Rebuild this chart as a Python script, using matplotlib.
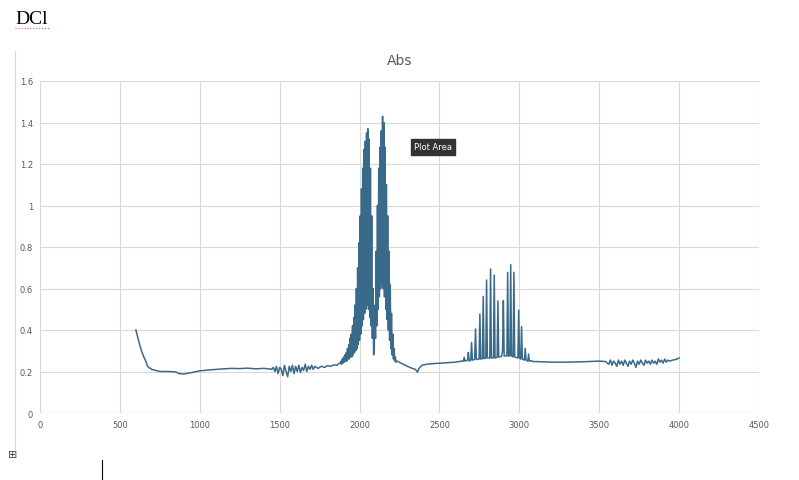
import matplotlib
matplotlib.use("Agg")
import matplotlib.pyplot as plt

# --- data segments (wavenumber, absorbance) ---
seg_start = [(600, .40), (610, .37), (620, .34), (635, .30), (650, .27), (665, .245), (670, .23),
             (680, .22), (700, .21), (750, .20), (800, .20), (850, .198), (870, .19), (900, .188),
             (950, .195), (1000, .203), (1050, .207), (1100, .21), (1150, .213), (1200, .215),
             (1250, .214), (1300, .216), (1350, .213), (1400, .215), (1440, .212)]
seg_noise1 = [(1450, .21), (1460, .22), (1470, .20), (1480, .225), (1490, .19), (1500, .22),
              (1510, .21), (1520, .18), (1530, .23), (1540, .20), (1550, .175), (1560, .225),
              (1570, .20), (1580, .23), (1590, .19), (1600, .225), (1610, .20), (1620, .23),
              (1630, .195), (1640, .22), (1650, .205), (1660, .235), (1670, .20), (1680, .225),
              (1690, .21), (1700, .23), (1710, .21), (1720, .225), (1740, .215), (1760, .225),
              (1780, .22), (1800, .228), (1820, .225), (1840, .232), (1860, .23), (1870, .238)]
seg_p_branch = [(1880, .24), (1884, .25), (1888, .235), (1892, .26), (1896, .24), (1900, .27),
                (1904, .245), (1908, .28), (1912, .25), (1916, .29), (1920, .25), (1924, .31),
                (1928, .26), (1932, .33), (1936, .26), (1940, .36), (1944, .27), (1948, .38),
                (1952, .27), (1956, .42), (1960, .28), (1964, .46), (1968, .29), (1972, .52),
                (1976, .30), (1980, .60), (1984, .31), (1988, .70), (1992, .33), (1996, .82),
                (2000, .35), (2004, .95), (2008, .38), (2012, 1.08), (2016, .42), (2020, 1.18),
                (2024, .45), (2028, 1.27), (2032, .48), (2036, 1.31), (2040, .50), (2044, 1.35),
                (2048, .52), (2052, 1.37), (2056, .50), (2060, 1.32), (2064, .46), (2068, 1.18),
                (2072, .42), (2076, .95), (2080, .36), (2084, .60), (2088, .28)]
seg_r_branch = [(2092, .30), (2096, .52), (2100, .36), (2104, .78), (2108, .42), (2112, 1.0),
                (2116, .50), (2120, 1.18), (2124, .56), (2128, 1.28), (2132, .60), (2136, 1.36),
                (2140, .62), (2144, 1.43), (2148, .60), (2152, 1.40), (2156, .56), (2160, 1.28),
                (2164, .50), (2168, 1.10), (2172, .45), (2176, .95), (2180, .40), (2184, .78),
                (2188, .35), (2192, .62), (2196, .31), (2200, .48), (2204, .28), (2208, .38),
                (2212, .26), (2216, .31), (2220, .25), (2224, .27), (2228, .245), (2236, .25)]
seg_mid = [(2260, .24), (2300, .225), (2330, .215), (2350, .21), (2362, .197), (2372, .215),
           (2390, .23), (2420, .235), (2460, .238), (2500, .24), (2550, .242), (2600, .245),
           (2640, .25)]
seg_overtone = [(2650, .25), (2655, .268), (2660, .25), (2676, .255), (2681, .292), (2686, .25),
                (2696, .255), (2701, .34), (2706, .255), (2720, .258), (2726, .405), (2731, .258),
                (2748, .26), (2753, .477), (2758, .26), (2769, .262), (2774, .562), (2779, .262),
                (2790, .265), (2795, .641), (2800, .265), (2815, .265), (2820, .694), (2825, .265),
                (2838, .265), (2843, .665), (2848, .265), (2861, .268), (2866, .54), (2871, .27),
                (2880, .27), (2890, .275), (2895, .30), (2900, .541), (2905, .275),
                (2922, .275), (2927, .678), (2932, .275), (2941, .275), (2946, .715), (2951, .275),
                (2961, .27), (2966, .678), (2971, .27), (2991, .265), (2996, .496), (3001, .265),
                (3009, .26), (3014, .416), (3019, .26), (3032, .255), (3037, .312), (3042, .255),
                (3053, .25), (3058, .284), (3063, .25), (3075, .252), (3085, .248)]
seg_end = [(3100, .248), (3200, .245), (3300, .245), (3400, .247), (3500, .25), (3540, .248),
           (3560, .235), (3570, .255), (3580, .23), (3590, .25), (3600, .24), (3610, .225),
           (3620, .255), (3630, .235), (3640, .25), (3650, .23), (3660, .255), (3670, .24),
           (3680, .225), (3690, .25), (3700, .235), (3710, .255), (3720, .24), (3730, .22),
           (3740, .25), (3750, .235), (3760, .255), (3770, .24), (3780, .23), (3790, .255),
           (3800, .24), (3810, .25), (3820, .235), (3830, .255), (3840, .24), (3850, .25),
           (3860, .235), (3870, .26), (3880, .245), (3890, .255), (3900, .24), (3910, .26),
           (3920, .245), (3930, .255), (3940, .25), (3960, .255), (3980, .258), (4000, .265)]

x_ticks = [0, 500, 1000, 1500, 2000, 2500, 3000, 3500, 4000, 4500]
y_ticks = [0, 0.2, 0.4, 0.6, 0.8, 1.0, 1.2, 1.4, 1.6]
y_labels = ["0", "0.2", "0.4", "0.6", "0.8", "1", "1.2", "1.4", "1.6"]

pts = seg_start + seg_noise1 + seg_p_branch + seg_r_branch + seg_mid + seg_overtone + seg_end
wn = [p[0] for p in pts]
ab = [p[1] for p in pts]

fig = plt.figure(figsize=(7.99, 4.81), dpi=100)
ax = fig.add_axes([40/799, 1-414/481, 719/799, 332/481])
ax.plot(wn, ab, color="#3a6a8a", lw=1.1)
ax.set_xlim(0, 4500)
ax.set_ylim(0, 1.6)
ax.set_xticks(x_ticks)
ax.set_yticks(y_ticks)
ax.set_yticklabels(y_labels)
ax.tick_params(labelsize=6, colors="#595959", length=0, pad=5)
ax.grid(True, color="#d9d9d9", lw=0.8)
for s in ax.spines.values():
    s.set_visible(False)
ax.axhline(0, color="#d0d0d0", lw=0.8)
ax.set_title("Abs", fontsize=10, color="#595959", pad=12)

fig.text(15/799, 1-20/481, "DCl", fontsize=14, family="Liberation Serif", va="center")
fig.add_artist(plt.Line2D([15/799, 50/799], [1-29/481, 1-29/481], color="#e06060", lw=0.8, ls=":"))
fig.add_artist(plt.Line2D([15/799, 15/799], [1-52/481, 1-450/481], color="#d8d8d8", lw=0.8))
fig.text(433/799, 1-148/481, "Plot Area", fontsize=6, color="white", ha="center", va="center",
         bbox=dict(boxstyle="square,pad=0.4", fc="#333333", ec="#333333"))
fig.text(8/799, 1-455/481, "⊞", fontsize=8, color="#444444", va="center")
fig.add_artist(plt.Line2D([102/799, 102/799], [1-461/481, 1-480/481], color="black", lw=0.8))

fig.savefig("out.png", dpi=100)
